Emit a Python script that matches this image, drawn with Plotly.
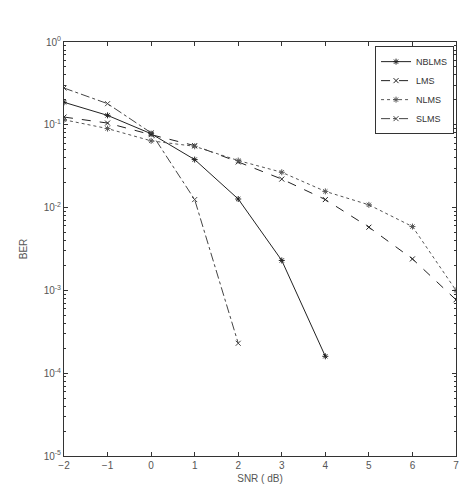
import plotly.graph_objects as go

# SNR points in dB
snr = [-2, -1, 0, 1, 2, 3, 4, 5, 6, 7]

# BER
ber_nblms = [0.187, 0.130, 0.078, 0.038, 0.0127, 0.0023, 1.6e-4]
ber_lms = [0.124, 0.105, 0.076, 0.056, 0.0356, 0.0221, 0.0125, 0.0058, 0.0024, 7.7e-4]
ber_nlms = [0.115, 0.090, 0.064, 0.055, 0.037, 0.0267, 0.0157, 0.0108, 0.0059, 1.0e-3]
ber_slms = [0.278, 0.180, 0.080, 0.0125, 2.3e-4]

major_vals = [1e-5, 1e-4, 1e-3, 1e-2, 1e-1, 1]
major_text = ["10<sup>-5</sup>", "10<sup>-4</sup>", "10<sup>-3</sup>",
              "10<sup>-2</sup>", "10<sup>-1</sup>", "10<sup>0</sup>"]
minor_vals = [m * d for d in major_vals[:-1] for m in range(2, 10)]

fig = go.Figure()

def add_series(x, y, name, dash, symbol, color):
    fig.add_trace(go.Scatter(
        x=x, y=y, name=name, mode="lines+markers",
        line=dict(color=color, width=1, dash=dash),
        marker=dict(symbol=symbol, size=5, color=color,
                    line=dict(color=color, width=1)),
    ))

add_series(snr[:len(ber_nblms)], ber_nblms, "NBLMS", "solid", "asterisk", "#222222")
add_series(snr, ber_lms, "LMS", "dash", "x-thin", "#222222")
add_series(snr, ber_nlms, "NLMS", "dot", "asterisk", "#555555")
add_series(snr[:len(ber_slms)], ber_slms, "SLMS", "dashdot", "x-thin", "#444444")

axis_font = dict(family="Liberation Sans, Arial, sans-serif", size=10, color="#555555")

fig.update_xaxes(
    range=[-2, 7], dtick=1, tick0=-2,
    ticks="inside", ticklen=4, tickcolor="#333333",
    showline=True, linecolor="#333333", linewidth=1, mirror="ticks",
    showgrid=False, zeroline=False, tickfont=axis_font,
    title=dict(text="SNR ( dB)", font=axis_font, standoff=4),
)
fig.update_yaxes(
    type="log", range=[-5, 0],
    tickvals=major_vals, ticktext=major_text,
    ticks="inside", ticklen=4, tickcolor="#333333",
    minor=dict(tickvals=minor_vals, ticks="inside", ticklen=2, tickcolor="#333333"),
    showline=True, linecolor="#333333", linewidth=1, mirror="ticks",
    showgrid=False, zeroline=False, tickfont=axis_font,
    title=dict(text="BER", font=axis_font, standoff=14),
)

fig.update_layout(
    width=474, height=496,
    margin=dict(l=56, r=26, t=34, b=48),
    paper_bgcolor="white", plot_bgcolor="white",
    showlegend=True,
    legend=dict(
        x=0.995, y=0.99, xanchor="right", yanchor="top",
        bgcolor="white", bordercolor="#333333", borderwidth=1,
        font=dict(family="Liberation Sans, Arial, sans-serif", size=9, color="#333333"),
        itemwidth=30, tracegroupgap=0,
    ),
)

fig.write_html("out.html")
